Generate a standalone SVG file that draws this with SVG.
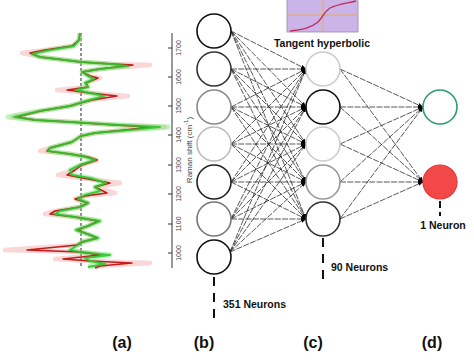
<svg xmlns="http://www.w3.org/2000/svg" width="474" height="363" viewBox="0 0 474 363">
<defs>
<marker id="ah" viewBox="0 0 10 10" refX="10" refY="5" markerWidth="5" markerHeight="5" orient="auto" markerUnits="userSpaceOnUse">
<path d="M0,1 L10,5 L0,9 z" fill="#000"/>
</marker>
<style>
.lbl{font-family:"Liberation Sans",Arial,sans-serif;font-weight:bold;fill:#111}
.ax{font-family:"Liberation Sans",Arial,sans-serif;fill:#444;font-size:7px}
.node{fill:#fff;stroke-width:1.6}
.conn{stroke:#222;stroke-width:0.75;stroke-dasharray:6 1.3;fill:none}
.dash{stroke:#111;stroke-width:2;stroke-dasharray:9 7;fill:none}
</style>
</defs>
<rect width="474" height="363" fill="#fff"/>

<g id="spectrum">
<line x1="81" y1="33" x2="81" y2="268" stroke="#222" stroke-width="1" stroke-dasharray="3 2"/>
<polyline fill="none" stroke="#f08a8a" stroke-opacity="0.35" stroke-width="4.5" stroke-linejoin="round" points="80,33 79,40 72,46 45,50 22,53 40,57 65,60 81,62 112,64 150,65 100,69 82,72 90,76 100,78 86,83 88,87 57,90 90,93 128,96 92,100 80,103 70,106 40,111 12,117 35,120 70,122 115,125 165,127 125,130 95,133 81,136 72,142 50,148 40,151 70,154 88,157 97,160 82,165 75,170 58,175 88,179 120,183 95,187 115,193 85,196 75,199 88,203 80,207 55,211 45,214 75,217 98,221 88,226 77,230 90,235 97,238 82,242 77,245 5,250 80,252 100,255 55,259 90,261 150,263 100,266 95,268"/>
<polyline fill="none" stroke="#7ee87e" stroke-opacity="0.5" stroke-width="5" stroke-linejoin="round" points="80,33 79,40 74,46 50,50 32,54 40,57 65,60 81,62 110,64 128,66 100,69 82,72 88,76 94,79 85,83 88,87 76,90 90,93 104,96 90,100 80,103 70,106 40,111 8,117 35,120 70,122 120,125 168,127 130,130 95,133 81,136 72,142 50,148 48,151 70,154 86,157 95,160 80,165 70,170 72,175 90,178 106,183 95,187 100,191 85,195 78,199 88,203 80,207 60,211 55,214 75,217 100,221 88,226 76,230 90,235 98,238 82,242 78,245 70,250 80,252 110,255 85,258 90,261 105,264 88,267"/>
<polyline fill="none" stroke="#c41a1a" stroke-width="1.5" stroke-linejoin="round" points="80,33 79,40 72,46 45,50 30,53 40,57 65,60 81,62 112,64 133,65 100,69 82,72 90,76 98,78 86,83 88,87 67,90 90,93 117,96 92,100 80,103 70,106 40,111 17,117 35,120 70,122 115,125 150,127 125,130 95,133 81,136 72,142 50,148 47,151 70,154 88,157 97,160 82,165 75,170 67,175 88,179 110,183 95,187 107,193 85,196 75,199 88,203 80,207 55,211 50,214 75,217 98,221 88,226 77,230 90,235 97,238 82,242 77,245 27,250 80,252 100,255 63,259 90,261 132,263 100,266 95,268"/>
<polyline fill="none" stroke="#2fc42f" stroke-opacity="0.9" stroke-width="2" stroke-linejoin="round" points="80,33 79,40 74,46 50,50 32,54 40,57 65,60 81,62 110,64 128,66 100,69 82,72 88,76 94,79 85,83 88,87 76,90 90,93 104,96 90,100 80,103 70,106 40,111 14,117 35,120 70,122 120,125 160,127 130,130 95,133 81,136 72,142 50,148 48,151 70,154 86,157 95,160 80,165 70,170 72,175 90,178 106,183 95,187 100,191 85,195 78,199 88,203 80,207 60,211 55,214 75,217 100,221 88,226 76,230 90,235 98,238 82,242 78,245 70,250 80,252 110,255 85,258 90,261 105,264 88,267"/>
<line x1="172" y1="33" x2="172" y2="268" stroke="#333" stroke-width="1"/>
<g stroke="#333" stroke-width="1">
<line x1="168" y1="48" x2="172" y2="48"/><line x1="168" y1="77" x2="172" y2="77"/>
<line x1="168" y1="106" x2="172" y2="106"/><line x1="168" y1="135" x2="172" y2="135"/>
<line x1="168" y1="165" x2="172" y2="165"/><line x1="168" y1="194" x2="172" y2="194"/>
<line x1="168" y1="224" x2="172" y2="224"/><line x1="168" y1="253" x2="172" y2="253"/>
</g>
<g class="ax" text-anchor="middle" dominant-baseline="central">
<text transform="translate(178,48) rotate(-90)">1700</text>
<text transform="translate(178,77) rotate(-90)">1600</text>
<text transform="translate(178,106) rotate(-90)">1500</text>
<text transform="translate(178,135) rotate(-90)">1400</text>
<text transform="translate(178,165) rotate(-90)">1300</text>
<text transform="translate(178,194) rotate(-90)">1200</text>
<text transform="translate(178,224) rotate(-90)">1100</text>
<text transform="translate(178,253) rotate(-90)">1000</text>
<text transform="translate(189,150) rotate(-90)" font-size="8">Raman shift (cm<tspan baseline-shift="super" font-size="6">-1</tspan>)</text>
</g>
</g>

<g id="tanh-inset">
<rect x="287" y="-1" width="71" height="33" fill="#cbb4e8" stroke="#9a8aaa" stroke-width="0.8"/>
<line x1="323" y1="0" x2="323" y2="32" stroke="#e8a860" stroke-width="1"/>
<line x1="287" y1="15" x2="358" y2="15" stroke="#e8a860" stroke-width="1"/>
<path d="M290,31 C305,30 312,27 318,22 C323,17 324,12 330,8 C338,4 348,3 356,1" fill="none" stroke="#c02a5a" stroke-width="1.3"/>
<text class="lbl" x="322" y="47" font-size="10.5" text-anchor="middle">Tangent hyperbolic</text>
</g>

<g id="connectors">
<g class="conn" marker-end="url(#ah)">
<line x1="231" y1="31" x2="306" y2="69"/><line x1="231" y1="31" x2="306" y2="107"/><line x1="231" y1="31" x2="306" y2="144"/><line x1="231" y1="31" x2="306" y2="182"/><line x1="231" y1="31" x2="306" y2="219"/>
<line x1="231" y1="69" x2="306" y2="69"/><line x1="231" y1="69" x2="306" y2="107"/><line x1="231" y1="69" x2="306" y2="144"/><line x1="231" y1="69" x2="306" y2="182"/><line x1="231" y1="69" x2="306" y2="219"/>
<line x1="231" y1="107" x2="306" y2="69"/><line x1="231" y1="107" x2="306" y2="107"/><line x1="231" y1="107" x2="306" y2="144"/><line x1="231" y1="107" x2="306" y2="182"/><line x1="231" y1="107" x2="306" y2="219"/>
<line x1="231" y1="144" x2="306" y2="69"/><line x1="231" y1="144" x2="306" y2="107"/><line x1="231" y1="144" x2="306" y2="144"/><line x1="231" y1="144" x2="306" y2="182"/><line x1="231" y1="144" x2="306" y2="219"/>
<line x1="231" y1="182" x2="306" y2="69"/><line x1="231" y1="182" x2="306" y2="107"/><line x1="231" y1="182" x2="306" y2="144"/><line x1="231" y1="182" x2="306" y2="182"/><line x1="231" y1="182" x2="306" y2="219"/>
<line x1="231" y1="219" x2="306" y2="69"/><line x1="231" y1="219" x2="306" y2="107"/><line x1="231" y1="219" x2="306" y2="144"/><line x1="231" y1="219" x2="306" y2="182"/><line x1="231" y1="219" x2="306" y2="219"/>
<line x1="230" y1="252" x2="306" y2="69"/><line x1="230" y1="252" x2="306" y2="107"/><line x1="230" y1="252" x2="306" y2="144"/><line x1="230" y1="252" x2="306" y2="182"/><line x1="230" y1="252" x2="306" y2="219"/>
<line x1="340" y1="69" x2="423" y2="107"/><line x1="340" y1="69" x2="423" y2="182"/>
<line x1="340" y1="107" x2="423" y2="107"/><line x1="340" y1="107" x2="423" y2="182"/>
<line x1="340" y1="144" x2="423" y2="107"/><line x1="340" y1="144" x2="423" y2="182"/>
<line x1="340" y1="182" x2="423" y2="107"/><line x1="340" y1="182" x2="423" y2="182"/>
<line x1="340" y1="219" x2="423" y2="107"/><line x1="340" y1="219" x2="423" y2="182"/>
</g>
<line class="dash" x1="214" y1="277" x2="214" y2="322"/>
<line class="dash" x1="323" y1="238" x2="323" y2="282"/>
<line x1="440" y1="201" x2="440" y2="216" stroke="#111" stroke-width="2" stroke-dasharray="7 4"/>
</g>

<g id="input-layer">
<circle class="node" cx="214" cy="31" r="17" stroke="#111"/>
<circle class="node" cx="214" cy="69" r="17" stroke="#333"/>
<circle class="node" cx="214" cy="107" r="17" stroke="#888"/>
<circle class="node" cx="214" cy="144" r="17" stroke="#bbb"/>
<circle class="node" cx="214" cy="182" r="17" stroke="#222"/>
<circle class="node" cx="214" cy="219" r="17" stroke="#777"/>
<circle class="node" cx="214" cy="257" r="17" stroke="#111"/>
<text class="lbl" x="223" y="308" font-size="10.5">351 Neurons</text>
</g>

<g id="hidden-layer">
<circle class="node" cx="323" cy="69" r="17" stroke="#ccc"/>
<circle class="node" cx="323" cy="107" r="17" stroke="#111"/>
<circle class="node" cx="323" cy="144" r="17" stroke="#ccc"/>
<circle class="node" cx="323" cy="182" r="17" stroke="#999"/>
<circle class="node" cx="323" cy="219" r="17" stroke="#333"/>
<text class="lbl" x="331" y="271" font-size="10.5">90 Neurons</text>
</g>

<g id="output-layer">
<circle cx="440" cy="107" r="17" fill="#fff" stroke="#2e9e6a" stroke-width="1.6"/>
<circle cx="440" cy="182" r="17" fill="#f24848" stroke="#e23a3a" stroke-width="1.2"/>
<text class="lbl" x="443" y="229" font-size="10.5" text-anchor="middle">1 Neuron</text>
</g>

<g id="panel-labels" class="lbl" font-size="16" text-anchor="middle">
<text x="122" y="348">(a)</text>
<text x="204" y="348">(b)</text>
<text x="313" y="348">(c)</text>
<text x="432" y="348">(d)</text>
</g>
</svg>
